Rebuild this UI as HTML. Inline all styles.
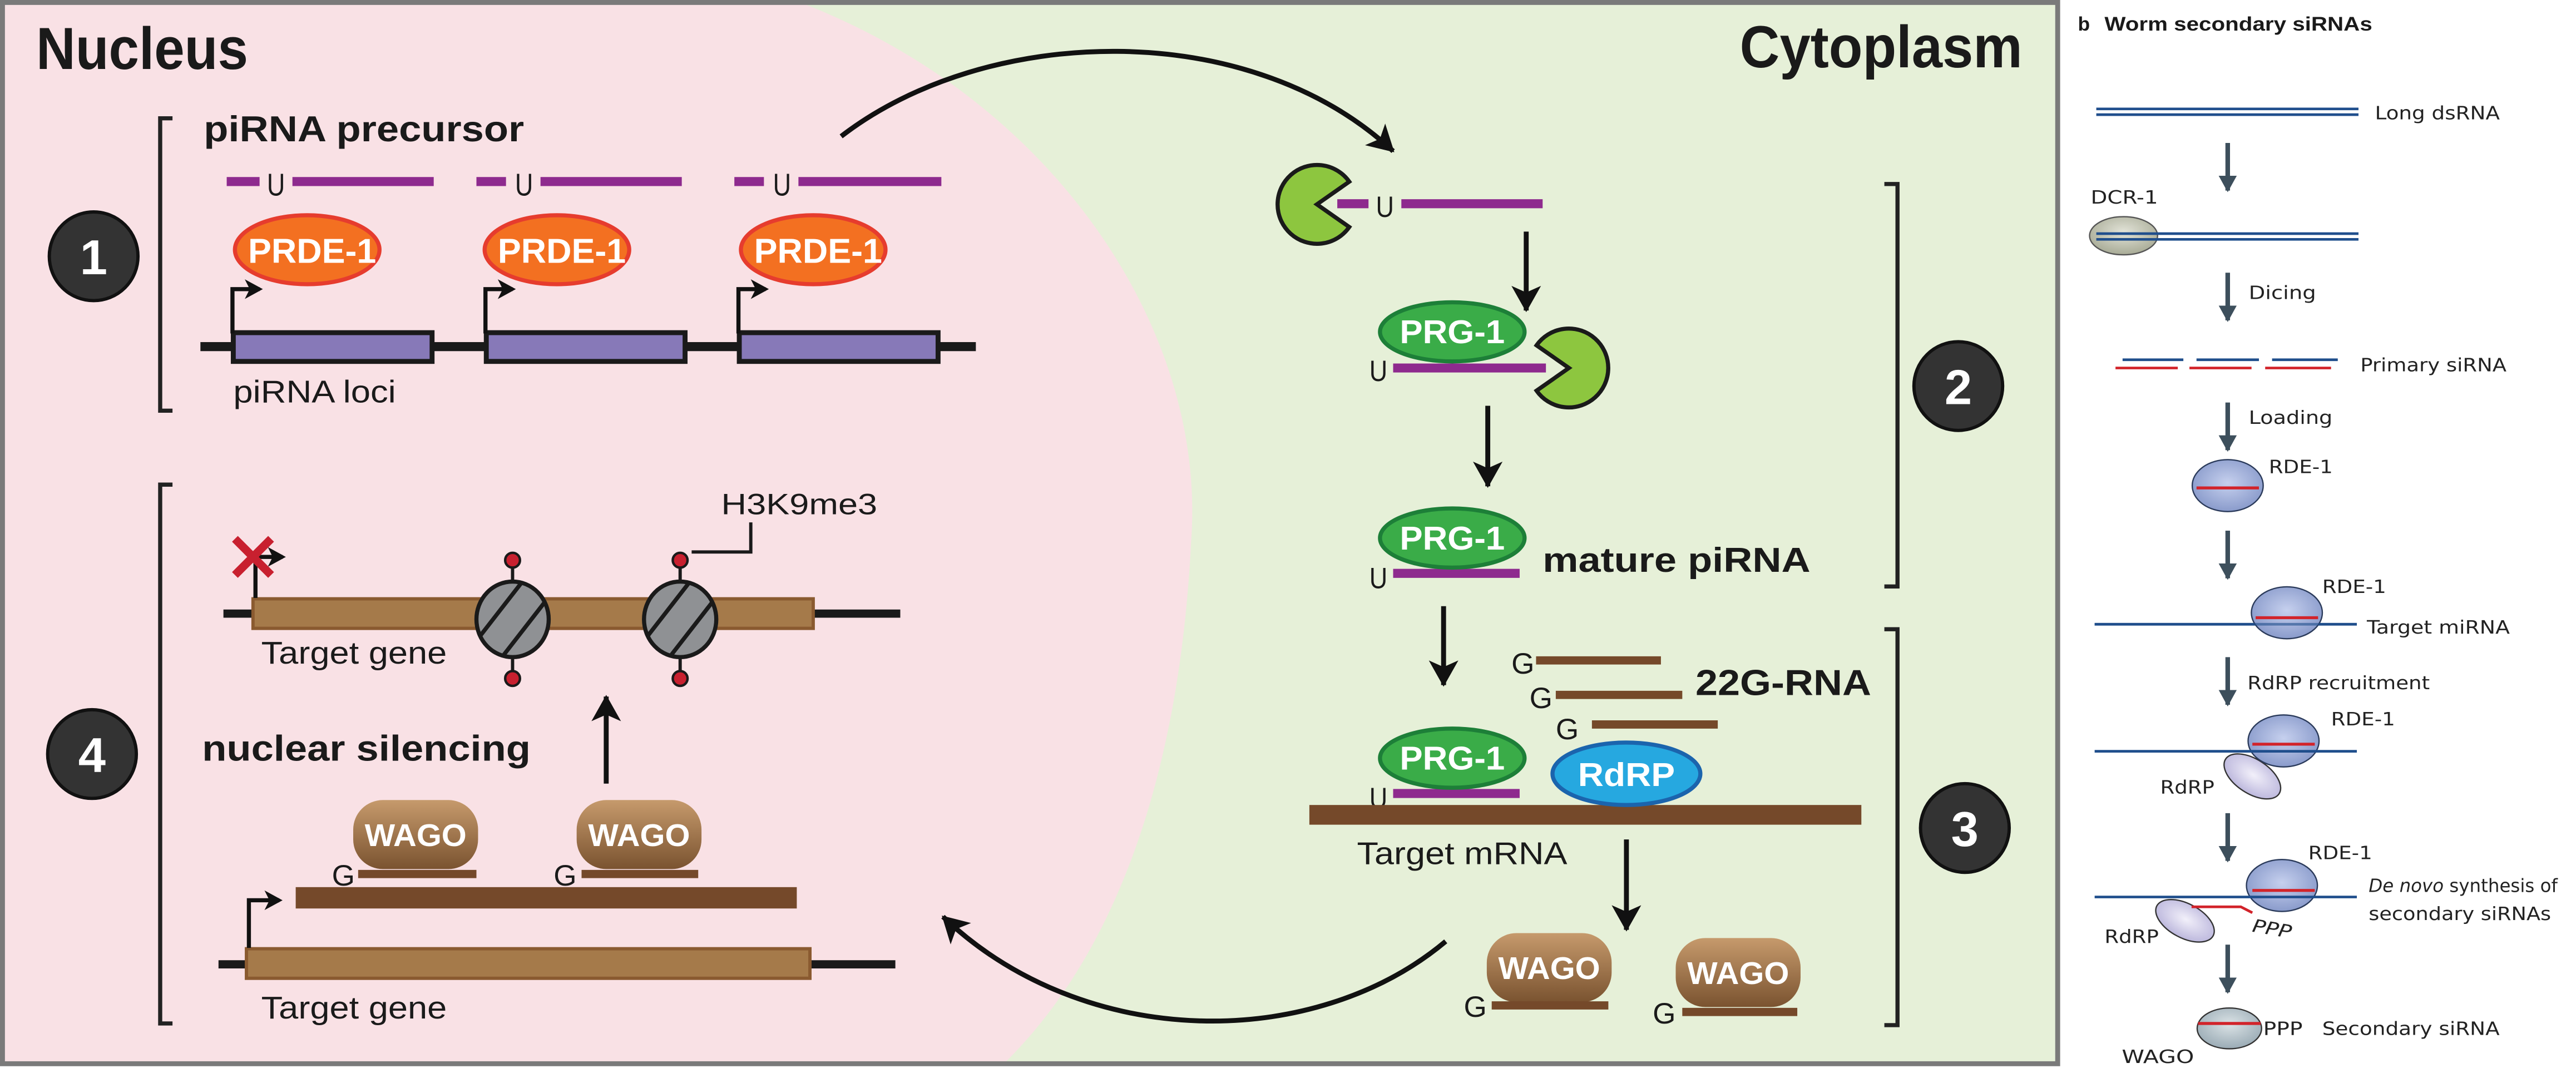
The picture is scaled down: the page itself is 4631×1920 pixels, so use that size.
<!DOCTYPE html>
<html><head><meta charset="utf-8"><style>html,body{margin:0;padding:0;background:#fff}svg{display:block}</style></head>
<body>
<svg xmlns="http://www.w3.org/2000/svg" width="4631" height="1920" viewBox="0 0 1568 650.1" preserveAspectRatio="none" font-family="'Liberation Sans', sans-serif">
<defs>
<marker id="ah" markerUnits="userSpaceOnUse" markerWidth="20" markerHeight="20" refX="15" refY="9" orient="auto"><path d="M0,0 L16,9 L0,18 L4,9 Z" fill="#111"/></marker>
<marker id="ph" markerUnits="userSpaceOnUse" markerWidth="14" markerHeight="14" refX="9" refY="6" orient="auto"><path d="M0,0 L11,6 L0,12 L3,6 Z" fill="#111"/></marker>
<marker id="ba" markerUnits="userSpaceOnUse" markerWidth="14" markerHeight="14" refX="9" refY="5.5" orient="auto"><path d="M0,0 L10,5.5 L0,11 Z" fill="#3d4f5c"/></marker>
<linearGradient id="wg" x1="0" y1="0" x2="0" y2="1"><stop offset="0" stop-color="#c69a6c"/><stop offset="1" stop-color="#7a5330"/></linearGradient>
<radialGradient id="bg1" cx="0.5" cy="0.45" r="0.6"><stop offset="0" stop-color="#c6d0ee"/><stop offset="1" stop-color="#8496c8"/></radialGradient>
<radialGradient id="lg1" cx="0.5" cy="0.45" r="0.6"><stop offset="0" stop-color="#f2f0fa"/><stop offset="1" stop-color="#b7b2da"/></radialGradient>
<radialGradient id="gg1" cx="0.5" cy="0.4" r="0.6"><stop offset="0" stop-color="#e2e3d8"/><stop offset="1" stop-color="#a8ab96"/></radialGradient>
<radialGradient id="wg2" cx="0.5" cy="0.4" r="0.6"><stop offset="0" stop-color="#dbe3e6"/><stop offset="1" stop-color="#9aabb5"/></radialGradient>
<clipPath id="n1"><ellipse cx="312" cy="377" rx="22" ry="23"/></clipPath>
<clipPath id="n2"><ellipse cx="414" cy="377" rx="22" ry="23"/></clipPath>
</defs>

<rect x="0" y="0" width="1568" height="650.1" fill="#fff"/>
<rect x="1.5" y="1.5" width="1251" height="646" fill="#e6f0d8"/>
<path d="M1.5,1.5 L487,1.5 C640,60 735,200 725,330 C718,470 680,580 611,647.5 L1.5,647.5 Z" fill="#f9e1e5"/>
<rect x="1.5" y="1.5" width="1251" height="646" fill="none" stroke="#7a7a7a" stroke-width="3"/>

<text x="22" y="42" font-size="36" font-weight="bold" fill="#1a1a1a" textLength="129" lengthAdjust="spacingAndGlyphs">Nucleus</text>
<text x="1059" y="41" font-size="36" font-weight="bold" fill="#1a1a1a" textLength="172" lengthAdjust="spacingAndGlyphs">Cytoplasm</text>

<g font-weight="bold" font-size="30" fill="#fff" text-anchor="middle">
<circle cx="57" cy="156" r="27" fill="#333" stroke="#111" stroke-width="2"/><text x="57" y="167">1</text>
<circle cx="56" cy="459" r="27" fill="#333" stroke="#111" stroke-width="2"/><text x="56" y="470">4</text>
<circle cx="1192" cy="235" r="27" fill="#333" stroke="#111" stroke-width="2"/><text x="1192" y="246">2</text>
<circle cx="1196" cy="504" r="27" fill="#333" stroke="#111" stroke-width="2"/><text x="1196" y="515">3</text>
</g>

<g fill="none" stroke="#222" stroke-width="2.5">
<path d="M105,72 H97.5 V250 H105"/>
<path d="M105,295 H97.5 V623 H105"/>
<path d="M1147,112 H1155 V357 H1147"/>
<path d="M1147,383 H1155 V624 H1147"/>
</g>

<text x="124" y="86" font-size="22" font-weight="bold" fill="#1a1a1a" textLength="195" lengthAdjust="spacingAndGlyphs">piRNA precursor</text>
<g stroke="#8e2a8e" stroke-width="5.5">
<line x1="138" y1="110.5" x2="158" y2="110.5"/><line x1="178" y1="110.5" x2="264" y2="110.5"/>
<line x1="290" y1="110.5" x2="308" y2="110.5"/><line x1="329" y1="110.5" x2="415" y2="110.5"/>
<line x1="447" y1="110.5" x2="465" y2="110.5"/><line x1="486" y1="110.5" x2="573" y2="110.5"/>
</g>
<g font-size="19" fill="#1a1a1a" text-anchor="middle">
<text x="168" y="119" textLength="11" lengthAdjust="spacingAndGlyphs">U</text>
<text x="319" y="119" textLength="11" lengthAdjust="spacingAndGlyphs">U</text>
<text x="476" y="119" textLength="11" lengthAdjust="spacingAndGlyphs">U</text>
</g>
<line x1="122" y1="211" x2="594" y2="211" stroke="#1a1a1a" stroke-width="5.5"/>
<g fill="#8779b8" stroke="#1a1a1a" stroke-width="3">
<rect x="142" y="202.5" width="121" height="17.5"/>
<rect x="296" y="202.5" width="121" height="17.5"/>
<rect x="450" y="202.5" width="121" height="17.5"/>
</g>
<g fill="none" stroke="#111" stroke-width="2.5">
<path d="M141.5,203 V176 H158" marker-end="url(#ph)"/>
<path d="M295.5,203 V176 H312" marker-end="url(#ph)"/>
<path d="M449.5,203 V176 H466" marker-end="url(#ph)"/>
</g>
<g>
<ellipse cx="187" cy="152" rx="44" ry="21" fill="#f37021" stroke="#e63c2e" stroke-width="2.5"/>
<ellipse cx="339" cy="152" rx="44" ry="21" fill="#f37021" stroke="#e63c2e" stroke-width="2.5"/>
<ellipse cx="495" cy="152" rx="44" ry="21" fill="#f37021" stroke="#e63c2e" stroke-width="2.5"/>
</g>
<g font-size="21" font-weight="bold" fill="#fff" text-anchor="middle">
<text x="190" y="160" textLength="78" lengthAdjust="spacingAndGlyphs">PRDE-1</text>
<text x="342" y="160" textLength="78" lengthAdjust="spacingAndGlyphs">PRDE-1</text>
<text x="498" y="160" textLength="78" lengthAdjust="spacingAndGlyphs">PRDE-1</text>
</g>
<text x="142" y="245" font-size="19" fill="#1a1a1a" textLength="99" lengthAdjust="spacingAndGlyphs">piRNA loci</text>

<text x="439" y="313" font-size="18" fill="#1a1a1a" textLength="95" lengthAdjust="spacingAndGlyphs">H3K9me3</text>
<path d="M457,318 V336 H421" fill="none" stroke="#1a1a1a" stroke-width="2"/>
<line x1="136" y1="373.5" x2="548" y2="373.5" stroke="#1a1a1a" stroke-width="5"/>
<rect x="154" y="364.5" width="341" height="18" fill="#a57a4a" stroke="#8a5a30" stroke-width="2"/>
<path d="M155.5,364 V339 H172" fill="none" stroke="#111" stroke-width="2.5" marker-end="url(#ph)"/>
<g stroke="#c8202f" stroke-width="5"><line x1="143" y1="328" x2="165" y2="350"/><line x1="165" y1="328" x2="143" y2="350"/></g>
<g stroke="#1a1a1a" stroke-width="2">
<line x1="312" y1="342" x2="312" y2="412"/><line x1="414" y1="342" x2="414" y2="412"/>
</g>
<g fill="#c8202f" stroke="#1a1a1a" stroke-width="1.5">
<circle cx="312" cy="341" r="4.5"/><circle cx="312" cy="413" r="4.5"/>
<circle cx="414" cy="341" r="4.5"/><circle cx="414" cy="413" r="4.5"/>
</g>
<ellipse cx="312" cy="377" rx="22" ry="23" fill="#8f9194"/>
<ellipse cx="414" cy="377" rx="22" ry="23" fill="#8f9194"/>
<g stroke="#1a1a1a" stroke-width="2.5">
<g clip-path="url(#n1)"><line x1="290" y1="390" x2="318" y2="354"/><line x1="304" y1="402" x2="332" y2="366"/></g>
<g clip-path="url(#n2)"><line x1="392" y1="390" x2="420" y2="354"/><line x1="406" y1="402" x2="434" y2="366"/></g>
</g>
<ellipse cx="312" cy="377" rx="22" ry="23" fill="none" stroke="#1a1a1a" stroke-width="2.5"/>
<ellipse cx="414" cy="377" rx="22" ry="23" fill="none" stroke="#1a1a1a" stroke-width="2.5"/>
<text x="159" y="404" font-size="19" fill="#1a1a1a" textLength="113" lengthAdjust="spacingAndGlyphs">Target gene</text>
<line x1="369" y1="477" x2="369" y2="424" stroke="#111" stroke-width="3" marker-end="url(#ah)"/>
<text x="123" y="463" font-size="22" font-weight="bold" fill="#1a1a1a" textLength="200" lengthAdjust="spacingAndGlyphs">nuclear silencing</text>
<rect x="215" y="487" width="76" height="42" rx="18" fill="url(#wg)"/>
<rect x="351" y="487" width="76" height="42" rx="18" fill="url(#wg)"/>
<g font-size="19" font-weight="bold" fill="#fff" text-anchor="middle">
<text x="253" y="515" textLength="62" lengthAdjust="spacingAndGlyphs">WAGO</text>
<text x="389" y="515" textLength="62" lengthAdjust="spacingAndGlyphs">WAGO</text>
</g>
<g stroke="#75492a" stroke-width="5"><line x1="218" y1="532" x2="290" y2="532"/><line x1="354" y1="532" x2="425" y2="532"/></g>
<g font-size="18" fill="#1a1a1a"><text x="202" y="539">G</text><text x="337" y="539">G</text></g>
<rect x="180" y="540" width="305" height="13" fill="#75492a"/>
<line x1="133" y1="587" x2="545" y2="587" stroke="#1a1a1a" stroke-width="5"/>
<rect x="150" y="577.5" width="343" height="18" fill="#a57a4a" stroke="#8a5a30" stroke-width="2"/>
<path d="M151.5,577 V548 H170" fill="none" stroke="#111" stroke-width="2.5" marker-end="url(#ph)"/>
<text x="159" y="620" font-size="19" fill="#1a1a1a" textLength="113" lengthAdjust="spacingAndGlyphs">Target gene</text>

<path d="M512,83 C600,15 760,10 848,92" fill="none" stroke="#111" stroke-width="3" marker-end="url(#ah)"/>
<path d="M880,573 C800,640 660,640 574,558" fill="none" stroke="#111" stroke-width="3" marker-end="url(#ah)"/>

<path d="M801.6,124.4 L821.3,110.6 A24,24 0 1,0 821.3,138.2 Z" fill="#8dc63f" stroke="#1a1a1a" stroke-width="2.5"/>
<g stroke="#8e2a8e" stroke-width="5.5"><line x1="814" y1="124" x2="833" y2="124"/><line x1="853" y1="124" x2="939" y2="124"/></g>
<text x="843" y="132" font-size="18" fill="#1a1a1a" text-anchor="middle" textLength="11" lengthAdjust="spacingAndGlyphs">U</text>
<line x1="929" y1="141" x2="929" y2="189" stroke="#111" stroke-width="3" marker-end="url(#ah)"/>
<g stroke="#8e2a8e" stroke-width="5.5">
<line x1="848" y1="224" x2="941" y2="224"/>
<line x1="848" y1="349" x2="925" y2="349"/>
<line x1="848" y1="483" x2="925" y2="483"/>
</g>
<path d="M955,224 L935.3,210.2 A24,24 0 1,1 935.3,237.8 Z" fill="#8dc63f" stroke="#1a1a1a" stroke-width="2.5"/>
<ellipse cx="884" cy="202" rx="44" ry="18" fill="#3aac48" stroke="#1d7f38" stroke-width="2.5"/>
<ellipse cx="884" cy="327.5" rx="44" ry="18" fill="#3aac48" stroke="#1d7f38" stroke-width="2.5"/>
<ellipse cx="884" cy="461.5" rx="44" ry="18" fill="#3aac48" stroke="#1d7f38" stroke-width="2.5"/>
<g font-size="20" font-weight="bold" fill="#fff" text-anchor="middle">
<text x="884" y="209" textLength="64" lengthAdjust="spacingAndGlyphs">PRG-1</text>
<text x="884" y="334.5" textLength="64" lengthAdjust="spacingAndGlyphs">PRG-1</text>
<text x="884" y="468.5" textLength="64" lengthAdjust="spacingAndGlyphs">PRG-1</text>
</g>
<g font-size="18" fill="#1a1a1a" text-anchor="middle">
<text x="839" y="232" textLength="11" lengthAdjust="spacingAndGlyphs">U</text>
<text x="839" y="358" textLength="11" lengthAdjust="spacingAndGlyphs">U</text>
<text x="839" y="492" textLength="11" lengthAdjust="spacingAndGlyphs">U</text>
</g>
<line x1="905.6" y1="247" x2="905.6" y2="296" stroke="#111" stroke-width="3" marker-end="url(#ah)"/>
<text x="939" y="348" font-size="21" font-weight="bold" fill="#1a1a1a" textLength="163" lengthAdjust="spacingAndGlyphs">mature piRNA</text>

<line x1="878.7" y1="369" x2="878.7" y2="417" stroke="#111" stroke-width="3" marker-end="url(#ah)"/>
<g stroke="#75492a" stroke-width="5">
<line x1="935" y1="402" x2="1011" y2="402"/>
<line x1="947" y1="423" x2="1024" y2="423"/>
<line x1="969" y1="441" x2="1045.6" y2="441"/>
</g>
<g font-size="18" fill="#1a1a1a">
<text x="920" y="410">G</text><text x="931" y="431">G</text><text x="947" y="450">G</text>
</g>
<text x="1032" y="423" font-size="22" font-weight="bold" fill="#1a1a1a" textLength="107" lengthAdjust="spacingAndGlyphs">22G-RNA</text>
<rect x="797" y="490" width="336" height="12" fill="#75492a"/>
<ellipse cx="990" cy="471" rx="45" ry="19" fill="#26a8e0" stroke="#1b64ad" stroke-width="2.5"/>
<text x="990" y="478.5" font-size="20" font-weight="bold" fill="#fff" text-anchor="middle" textLength="59" lengthAdjust="spacingAndGlyphs">RdRP</text>
<text x="826" y="526" font-size="19" fill="#1a1a1a" textLength="128" lengthAdjust="spacingAndGlyphs">Target mRNA</text>
<line x1="990" y1="511" x2="990" y2="566" stroke="#111" stroke-width="3" marker-end="url(#ah)"/>
<rect x="905" y="568" width="76" height="42" rx="18" fill="url(#wg)"/>
<rect x="1020" y="571" width="76" height="42" rx="18" fill="url(#wg)"/>
<g font-size="19" font-weight="bold" fill="#fff" text-anchor="middle">
<text x="943" y="596" textLength="62" lengthAdjust="spacingAndGlyphs">WAGO</text>
<text x="1058" y="599" textLength="62" lengthAdjust="spacingAndGlyphs">WAGO</text>
</g>
<g stroke="#75492a" stroke-width="5"><line x1="908" y1="612" x2="979" y2="612"/><line x1="1024" y1="616" x2="1094" y2="616"/></g>
<g font-size="18" fill="#1a1a1a"><text x="891" y="619">G</text><text x="1006" y="623">G</text></g>

<g font-family="'DejaVu Sans','Liberation Sans',sans-serif" fill="#1a1a1a">
<text x="1264.8" y="18.6" font-size="12" font-weight="bold" font-family="'Liberation Sans',sans-serif">b</text>
<text x="1281" y="18.6" font-size="12" font-weight="bold" font-family="'Liberation Sans',sans-serif" textLength="163" lengthAdjust="spacingAndGlyphs">Worm secondary siRNAs</text>
</g>
<g stroke="#1f4e8c" stroke-width="1.6">
<line x1="1276" y1="66.3" x2="1435.6" y2="66.3"/><line x1="1276" y1="69.8" x2="1435.6" y2="69.8"/>
</g>
<g stroke="#3d4f5c" stroke-width="2.8" fill="none">
<line x1="1356" y1="87" x2="1356" y2="116" marker-end="url(#ba)"/>
<line x1="1356" y1="166" x2="1356" y2="195" marker-end="url(#ba)"/>
<line x1="1356" y1="245" x2="1356" y2="274" marker-end="url(#ba)"/>
<line x1="1356" y1="323" x2="1356" y2="352" marker-end="url(#ba)"/>
<line x1="1356" y1="400" x2="1356" y2="429" marker-end="url(#ba)"/>
<line x1="1356" y1="495" x2="1356" y2="524" marker-end="url(#ba)"/>
<line x1="1356" y1="575" x2="1356" y2="604" marker-end="url(#ba)"/>
</g>
<ellipse cx="1292.6" cy="143.5" rx="20.7" ry="11.6" fill="url(#gg1)" stroke="#555" stroke-width="0.8"/>
<g stroke="#1f4e8c" stroke-width="1.6">
<line x1="1276" y1="142.2" x2="1435.6" y2="142.2"/><line x1="1276" y1="145.7" x2="1435.6" y2="145.7"/>
</g>
<g stroke="#1f4e8c" stroke-width="1.6">
<line x1="1292" y1="219" x2="1329" y2="219"/><line x1="1337" y1="219" x2="1375" y2="219"/><line x1="1383" y1="219" x2="1423" y2="219"/>
</g>
<g stroke="#d2232a" stroke-width="1.6">
<line x1="1287.7" y1="224" x2="1325.6" y2="224"/><line x1="1332.7" y1="224" x2="1370.5" y2="224"/><line x1="1378.8" y1="224" x2="1418.9" y2="224"/>
</g>
<ellipse cx="1356" cy="295.6" rx="21.6" ry="15.8" fill="url(#bg1)" stroke="#2a3a5a" stroke-width="0.8"/>
<line x1="1337" y1="297" x2="1375" y2="297" stroke="#d2232a" stroke-width="1.8"/>
<line x1="1275" y1="380" x2="1434.6" y2="380" stroke="#1f4e8c" stroke-width="1.6"/>
<ellipse cx="1392" cy="373" rx="21.6" ry="15.8" fill="url(#bg1)" stroke="#2a3a5a" stroke-width="0.8"/>
<line x1="1275" y1="380" x2="1434.6" y2="380" stroke="#1f4e8c" stroke-width="1.6" opacity="0.6"/>
<line x1="1373" y1="376" x2="1411" y2="376" stroke="#d2232a" stroke-width="1.8"/>
<ellipse cx="1371" cy="472.6" rx="19.4" ry="10.4" transform="rotate(33 1371 472.6)" fill="url(#lg1)" stroke="#333" stroke-width="0.8"/>
<ellipse cx="1390" cy="451" rx="21.6" ry="15.8" fill="url(#bg1)" stroke="#2a3a5a" stroke-width="0.8"/>
<line x1="1275" y1="457.3" x2="1434.6" y2="457.3" stroke="#1f4e8c" stroke-width="1.6"/>
<line x1="1371" y1="453" x2="1409" y2="453" stroke="#d2232a" stroke-width="1.8"/>
<ellipse cx="1330" cy="560.5" rx="19.4" ry="10.4" transform="rotate(28 1330 560.5)" fill="url(#lg1)" stroke="#333" stroke-width="0.8"/>
<ellipse cx="1389" cy="539" rx="21.6" ry="15.8" fill="url(#bg1)" stroke="#2a3a5a" stroke-width="0.8"/>
<line x1="1275" y1="546" x2="1434.6" y2="546" stroke="#1f4e8c" stroke-width="1.6"/>
<line x1="1371" y1="542" x2="1409" y2="542" stroke="#d2232a" stroke-width="1.8"/>
<path d="M1334,552 H1364 L1371,555.6" fill="none" stroke="#d2232a" stroke-width="1.6"/>
<ellipse cx="1357" cy="626" rx="19.6" ry="12.4" fill="url(#wg2)" stroke="#333" stroke-width="0.8"/>
<line x1="1338" y1="623" x2="1376" y2="623" stroke="#d2232a" stroke-width="1.8"/>

<g font-family="'DejaVu Sans','Liberation Sans',sans-serif" font-size="11" fill="#222">
<text x="1445.6" y="72.6" textLength="76" lengthAdjust="spacingAndGlyphs">Long dsRNA</text>
<text x="1272.6" y="124" textLength="41" lengthAdjust="spacingAndGlyphs">DCR-1</text>
<text x="1368.8" y="182" textLength="41" lengthAdjust="spacingAndGlyphs">Dicing</text>
<text x="1436.7" y="226" textLength="89" lengthAdjust="spacingAndGlyphs">Primary siRNA</text>
<text x="1368.8" y="258" textLength="51" lengthAdjust="spacingAndGlyphs">Loading</text>
<text x="1381" y="288" textLength="39" lengthAdjust="spacingAndGlyphs">RDE-1</text>
<text x="1413.5" y="361" textLength="39" lengthAdjust="spacingAndGlyphs">RDE-1</text>
<text x="1440.7" y="385.6" textLength="87" lengthAdjust="spacingAndGlyphs">Target miRNA</text>
<text x="1368" y="419.6" textLength="111" lengthAdjust="spacingAndGlyphs">RdRP recruitment</text>
<text x="1418.9" y="441.5" textLength="39" lengthAdjust="spacingAndGlyphs">RDE-1</text>
<text x="1314.9" y="483" textLength="33" lengthAdjust="spacingAndGlyphs">RdRP</text>
<text x="1405" y="523" textLength="39" lengthAdjust="spacingAndGlyphs">RDE-1</text>
<text x="1441.8" y="543"><tspan font-style="italic">De novo</tspan> synthesis of</text>
<text x="1441.8" y="560" textLength="111" lengthAdjust="spacingAndGlyphs">secondary siRNAs</text>
<text x="1370.5" y="567" font-style="italic" transform="rotate(10 1370.5 567)" textLength="24" lengthAdjust="spacingAndGlyphs">PPP</text>
<text x="1281" y="574" textLength="33" lengthAdjust="spacingAndGlyphs">RdRP</text>
<text x="1377.6" y="630" textLength="24" lengthAdjust="spacingAndGlyphs">PPP</text>
<text x="1413.5" y="630" textLength="108" lengthAdjust="spacingAndGlyphs">Secondary siRNA</text>
<text x="1291.5" y="647" textLength="44" lengthAdjust="spacingAndGlyphs">WAGO</text>
</g>
</svg>
</body></html>
